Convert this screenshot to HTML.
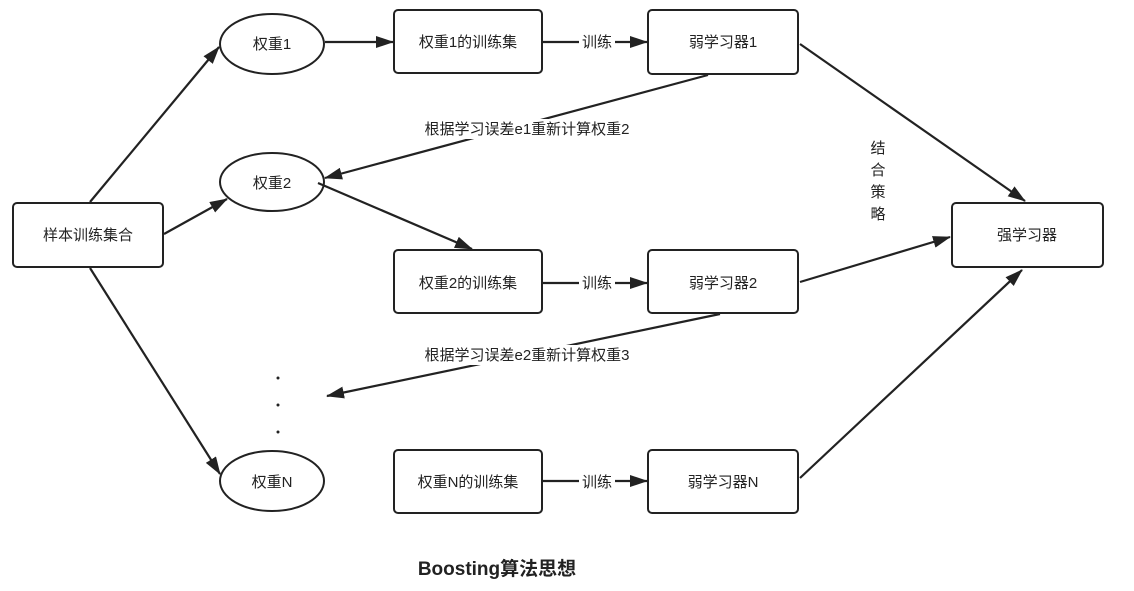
<!DOCTYPE html>
<html><head><meta charset="utf-8"><style>
body{margin:0;background:#fff;}
svg text{font-family:"Liberation Sans","Noto Sans CJK SC",sans-serif;font-size:15px;fill:#222;}
</style></head><body>
<svg width="1134" height="586" viewBox="0 0 1134 586" xmlns="http://www.w3.org/2000/svg">
<defs><marker id="a" markerWidth="18" markerHeight="12" refX="17" refY="6" orient="auto" markerUnits="userSpaceOnUse"><path d="M0,0 L18,6 L0,12 z" fill="#222"/></marker></defs>
<g fill="#fff" stroke="#222" stroke-width="2">
<rect x="13" y="203" width="150" height="64" rx="4"/>
<ellipse cx="272" cy="44" rx="52" ry="30"/>
<ellipse cx="272" cy="182" rx="52" ry="29"/>
<ellipse cx="272" cy="481" rx="52" ry="30"/>
<rect x="394" y="10" width="148" height="63" rx="4"/>
<rect x="648" y="10" width="150" height="64" rx="4"/>
<rect x="394" y="250" width="148" height="63" rx="4"/>
<rect x="648" y="250" width="150" height="63" rx="4"/>
<rect x="394" y="450" width="148" height="63" rx="4"/>
<rect x="648" y="450" width="150" height="63" rx="4"/>
<rect x="952" y="203" width="151" height="64" rx="4"/>
</g>
<g stroke="#222" stroke-width="2.2" fill="none" marker-end="url(#a)">
<line x1="90" y1="202" x2="219" y2="47"/>
<line x1="164" y1="234" x2="227" y2="199"/>
<line x1="90" y1="268" x2="220" y2="474"/>
<line x1="325" y1="42" x2="393" y2="42"/>
<line x1="708" y1="75" x2="325" y2="178"/>
<line x1="318" y1="183" x2="472" y2="249"/>
<line x1="720" y1="314" x2="327" y2="396"/>
<line x1="800" y1="44" x2="1025" y2="201"/>
<line x1="800" y1="282" x2="950" y2="237"/>
<line x1="800" y1="478" x2="1022" y2="270"/>
<line x1="542" y1="42" x2="647" y2="42"/>
<line x1="542" y1="283" x2="647" y2="283"/>
<line x1="542" y1="481" x2="647" y2="481"/>
</g>
<g fill="#fff">
<rect x="579" y="32" width="36" height="20"/>
<rect x="579" y="273" width="36" height="20"/>
<rect x="579" y="471" width="36" height="20"/>
<rect x="398" y="119" width="258" height="20"/>
<rect x="400" y="345" width="256" height="20"/>
</g>
<g text-anchor="middle">
<text x="88" y="240">样本训练集合</text>
<text x="272" y="49">权重1</text>
<text x="272" y="188">权重2</text>
<text x="272" y="487">权重N</text>
<text x="468" y="47">权重1的训练集</text>
<text x="723" y="47">弱学习器1</text>
<text x="468" y="288">权重2的训练集</text>
<text x="723" y="288">弱学习器2</text>
<text x="468" y="487">权重N的训练集</text>
<text x="723" y="487">弱学习器N</text>
<text x="1027" y="240">强学习器</text>
<text x="597" y="47">训练</text>
<text x="597" y="288">训练</text>
<text x="597" y="487">训练</text>
<text x="527" y="134">根据学习误差e1重新计算权重2</text>
<text x="527" y="360">根据学习误差e2重新计算权重3</text>
<text x="878" y="153">结</text>
<text x="878" y="175">合</text>
<text x="878" y="197">策</text>
<text x="878" y="219">略</text>
<text x="497" y="575" style="font-size:19px;font-weight:bold">Boosting算法思想</text>
</g>
<g fill="#222"><circle cx="278" cy="378" r="1.5"/><circle cx="278" cy="405" r="1.5"/><circle cx="278" cy="432" r="1.5"/></g>
</svg>
</body></html>
